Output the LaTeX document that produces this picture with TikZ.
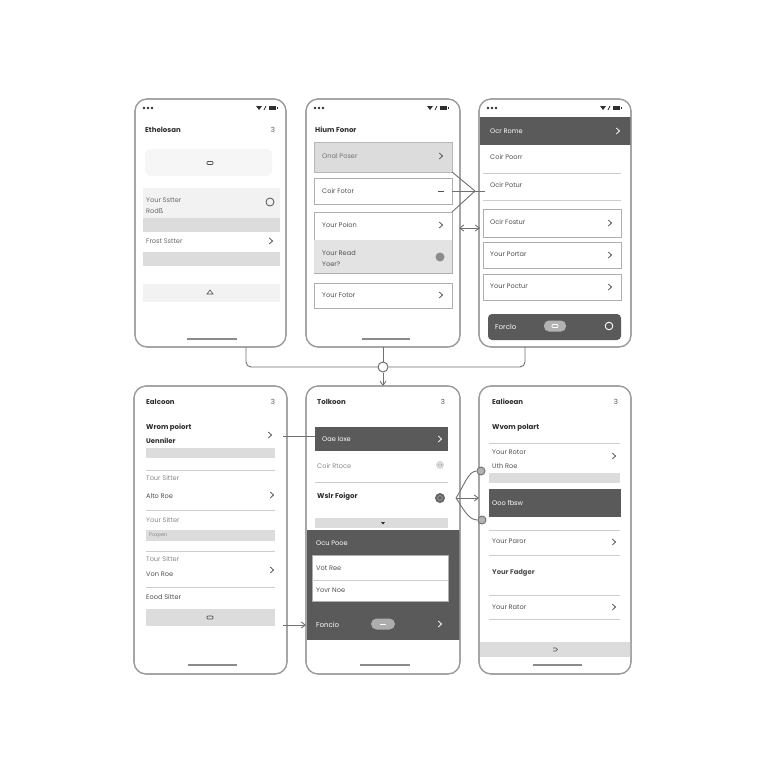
\documentclass[tikz,border=0pt]{standalone}
\usepackage{fontspec}
\setmainfont{Poppins}
\usetikzlibrary{arrows.meta,calc}
\definecolor{frame}{HTML}{9A9A9A}
\definecolor{txt}{HTML}{505050}
\definecolor{ltxt}{HTML}{8A8A8A}
\definecolor{ttl}{HTML}{2E2E2E}
\definecolor{dark}{HTML}{5A5A5A}
\definecolor{gbar}{HTML}{DCDCDC}
\definecolor{lgbar}{HTML}{F2F2F2}
\definecolor{divc}{HTML}{CDCDCD}
\definecolor{conc}{HTML}{707070}
\newcommand\bxy[6]{\node[#1,anchor=north west,minimum width={(#5)-(#3)},minimum height={(#6)-(#4)}] (#2) at (#3,#4) {};}
\newcommand\chv[3][txt]{\draw[chevl,draw=#1] (#2-1.5,#3-2.8) -- (#2+1.5,#3) -- (#2-1.5,#3+2.8);}
\newcommand\stat[2]{%
  \fill[ttl] (#1+9,#2+9) circle (1.4) (#1+13,#2+9) circle (1.4) (#1+17,#2+9) circle (1.4);
  \fill[ttl] (#1+121,#2+7) -- (#1+127,#2+7) -- (#1+124,#2+11) -- cycle;
  \draw[ttl,line width=0.7pt] (#1+129,#2+11) -- (#1+131,#2+7);
  \fill[ttl] (#1+134,#2+7.2) rectangle (#1+141,#2+10.8);
  \fill[ttl] (#1+141.5,#2+8.2) rectangle (#1+142.5,#2+9.8);}
\begin{document}
\begin{tikzpicture}[x=1pt,y=-1pt,
  phone/.style={draw=frame,fill=white,line width=1.1pt,rounded corners=12pt,inner sep=0pt,outer sep=0pt},
  phoneline/.style={draw=frame,line width=1.1pt,rounded corners=12pt},
  lbox/.style={draw=frame!80,fill=white,line width=0.7pt,inner sep=0pt,outer sep=0pt},
  gbox/.style={draw=frame!70,fill=gbar,line width=0.7pt,inner sep=0pt,outer sep=0pt},
  dbar/.style={fill=dark,inner sep=0pt,outer sep=0pt},
  gfill/.style={fill=gbar,inner sep=0pt,outer sep=0pt},
  lfill/.style={fill=lgbar,inner sep=0pt,outer sep=0pt},
  lbl/.style={anchor=west,inner sep=0pt,text=txt,font=\fontsize{6.6}{8}\selectfont},
  llbl/.style={lbl,text=ltxt},
  wlbl/.style={lbl,text=white},
  tlbl/.style={lbl,text=ttl,font=\fontsize{7}{8}\selectfont\bfseries},
  blbl/.style={lbl,text=ttl,font=\fontsize{7}{8}\selectfont\bfseries},
  num/.style={inner sep=0pt,text=txt,font=\fontsize{7}{8}\selectfont},
  chevl/.style={line width=0.8pt,line cap=round,line join=round},
  divl/.style={draw=divc,line width=1pt},
  home/.style={draw=frame!90!black,line width=1.1pt},
  conn/.style={draw=conc,line width=0.9pt},
  jn/.style={circle,draw=conc,fill=white,line width=1pt,minimum size=10pt,inner sep=0pt},
  pin/.style={circle,draw=conc,fill=black!30,line width=0.9pt,minimum size=8pt,inner sep=0pt},
  tip/.style={-{Straight Barb[length=4pt,width=6pt]}}
]
\fill[white] (0,0) rectangle (768,768);
\useasboundingbox (0,0) rectangle (768,768);

% ---------- phones ----------
\bxy{phone}{p1}{135}{99}{286}{347}
\bxy{phone}{p2}{306}{99}{460}{347}
\bxy{phone}{p3}{479}{99}{631}{347}
\bxy{phone}{p4}{134}{386}{287}{674}
\bxy{phone}{p5}{306}{386}{460}{674}
\bxy{phone}{p6}{479}{386}{631}{674}

\stat{135}{99}
\stat{306}{99}
\stat{479}{99}

% ---------- phone 1 ----------
\node[tlbl] (t1) at (145,130) {Ethelosan};
\node[num] (n1) at (273,130) {3};
\fill[lgbar!70,rounded corners=6pt] (145,149) rectangle (272,176);
\draw[txt,line width=0.7pt,rounded corners=0.8pt] (207,161.5) rectangle (213,164.5);
\bxy{lfill}{r11}{143}{188}{280}{218}
\node[lbl,text=txt!85] (t11) at (146,200) {Your Sstter};
\node[lbl,text=txt!85] (t12) at (146,211) {Rodß};
\draw[txt,line width=0.8pt] (270,202) circle (4);
\bxy{gfill}{g11}{143}{218}{280}{232}
\node[lbl,text=txt!85] (t13) at (146,241) {Frost Sstter};
\chv{271}{241}
\bxy{gfill}{g12}{143}{252}{280}{266}
\bxy{lfill}{g13}{143}{284}{280}{302}
\draw[txt,line width=0.6pt] (207,294) -- (210,290) -- (213,294) -- cycle;
\draw[home] (187,339) -- (237,339);

% ---------- phone 2 ----------
\node[tlbl] (t2) at (315,130) {Hium Fonor};
\bxy{gbox}{b21}{314}{142}{452}{172}
\node[lbl,text=txt!80] (t21) at (322,156) {Onal Poser};
\chv{441}{156}
\bxy{lbox}{b22}{314}{178}{452}{204}
\node[lbl] (t22) at (322,191) {Coir Fotor};
\draw[txt,line width=0.9pt] (438,191) -- (444,191);
\bxy{lbox}{b23}{314}{212}{452}{273}
\fill[gbar!80] (314.4,240) rectangle (451.6,272.6);
\node[lbl] (t23) at (322,225) {Your Poion};
\chv{441}{225}
\node[lbl] (t24) at (322,253) {Your Read};
\node[lbl] (t25) at (322,264) {Yoer?};
\fill[black!45] (440,257) circle (4.5);
\bxy{lbox}{b24}{314}{283}{452}{308}
\node[lbl] (t26) at (322,295) {Your Fotor};
\chv{441}{295}
\draw[home] (362,339) -- (410,339);

% ---------- phone 3 ----------
\bxy{dbar}{d31}{479.5}{117}{630.5}{145}
\node[wlbl] (t3) at (490,131) {Ocr Rome};
\chv[white]{618}{131}
\node[lbl] (t31) at (490,157) {Coir Poorr};
\draw[divl] (483,173) -- (621,173);
\node[lbl] (t32) at (490,185) {Ocir Potur};
\draw[divl] (483,200) -- (621,200);
\bxy{lbox}{b31}{483}{209}{621}{237}
\node[lbl] (t33) at (490,222) {Ocir Fostur};
\chv{610}{223}
\bxy{lbox}{b32}{483}{242}{621}{268}
\node[lbl] (t34) at (490,254) {Your Portar};
\chv{610}{255}
\bxy{lbox}{b33}{483}{274}{621}{300}
\node[lbl] (t35) at (490,286) {Your Poctur};
\chv{610}{287}
\fill[dark,rounded corners=4pt] (488,314) rectangle (621,340);
\node[wlbl,font=\fontsize{7}{8}\selectfont] (t36) at (495,327) {Forclo};
\fill[black!30,rounded corners=5pt] (544,320.5) rectangle (566,331.5);
\draw[white,line width=0.7pt,rounded corners=0.8pt] (552,324.5) rectangle (558,327.5);
\draw[white,line width=0.9pt] (609,326) circle (3.8);

% ---------- phone 4 ----------
\node[tlbl] (t4) at (146,402) {Ealcoon};
\node[num] (n4) at (273,402) {3};
\node[blbl] (t41) at (146,428) {Wrom poiort};
\node[blbl,font=\fontsize{6.8}{8}\selectfont\bfseries] (t42) at (146,441) {Uenniler};
\chv{270}{435}
\bxy{gfill}{g41}{146}{448}{275}{458}
\draw[divl] (146,470) -- (275,470);
\node[llbl] (t43) at (146,478) {Tour Sitter};
\node[lbl] (t44) at (146,496) {Alto Roe};
\chv{272}{495}
\draw[divl] (146,510) -- (275,510);
\node[llbl] (t45) at (146,520) {Your Sitter};
\bxy{gfill}{g42}{146}{530}{275}{541}
\node[llbl,font=\fontsize{5}{6}\selectfont] (t46) at (149,535.5) {Poxpen};
\draw[divl] (146,551) -- (275,551);
\node[llbl] (t47) at (146,559) {Tour Sitter};
\node[lbl] (t48) at (146,574) {Von Roe};
\chv{272}{570}
\draw[divl] (146,587) -- (275,587);
\node[lbl] (t49) at (146,597) {Eood Sitter};
\bxy{gfill}{g43}{146}{609}{275}{626}
\draw[txt,line width=0.7pt,rounded corners=0.8pt] (207,616) rectangle (213,619);
\draw[home] (188,665) -- (237,665);

% ---------- phone 5 ----------
\node[tlbl] (t5) at (317,402) {Tolkoon};
\node[num] (n5) at (443,402) {3};
\bxy{dbar}{d51}{315}{427}{448}{451}
\node[wlbl] (t51) at (322,439) {Oae Ioxe};
\chv[white]{440}{439}
\node[llbl] (t52) at (317,466) {Coir Rtoce};
\fill[black!15] (440,465) circle (4);
\fill[black!50] (438.6,465) circle (0.6) (441.4,465) circle (0.6);
\draw[divl] (315,482) -- (448,482);
\node[blbl] (t53) at (317,497) {Wslr Foigor};
\fill[black!60] (440,498) circle (5);
\draw[black!35,line width=0.6pt] (440,498) circle (2.4);
\bxy{gfill}{g51}{315}{518}{448}{528}
\fill[ttl] (381,522) -- (385,522) -- (383,524.5) -- cycle;
\bxy{dbar}{d52}{306.5}{530}{459.5}{640}
\node[wlbl] (t54) at (316,543) {Ocu Pooe};
\bxy{lbox}{b51}{312}{555}{448}{601}
\draw[divl] (312,580) -- (448,580);
\node[lbl] (t55) at (316,568) {Vot Ree};
\node[lbl] (t56) at (316,590) {Yovr Noe};
\node[wlbl,font=\fontsize{7}{8}\selectfont] (t57) at (316,625) {Foncio};
\fill[black!32,rounded corners=5.5pt] (371,618.5) rectangle (395,629.5);
\draw[white,line width=1pt] (380,624) -- (386,624);
\chv[white]{440}{624}
\draw[home] (360,665) -- (410,665);

% ---------- phone 6 ----------
\node[tlbl] (t6) at (492,402) {Ealioean};
\node[num] (n6) at (616,402) {3};
\node[blbl] (t61) at (492,428) {Wvom polart};
\draw[divl] (489,443) -- (620,443);
\node[lbl] (t62) at (492,452) {Your Rotor};
\node[lbl] (t63) at (492,466) {Uth Roe};
\chv{614}{456}
\bxy{gfill}{g61}{489}{473}{620}{483}
\bxy{dbar}{d61}{489}{489}{621}{517}
\node[wlbl] (t64) at (492,503) {Ooo fbsw};
\draw[divl] (489,530) -- (620,530);
\node[lbl] (t65) at (492,541) {Your Paror};
\chv{614}{542}
\draw[divl] (489,555) -- (620,555);
\node[blbl,font=\fontsize{6.8}{8}\selectfont\bfseries,text=txt] (t66) at (492,573) {Your Fadger};
\draw[divl] (489,595) -- (620,595);
\node[lbl] (t67) at (492,607) {Your Rator};
\chv{614}{607}
\draw[divl] (489,619) -- (620,619);
\bxy{gfill}{g62}{479.5}{642}{630.5}{657}
\draw[txt,line width=0.6pt] (553,648) -- (556,648) arc[start angle=90,end angle=-90,radius=1.5pt] -- (553,651);
\draw[home] (533,665) -- (582,665);

% ---------- frames on top ----------
\foreach \p in {p1,p2,p3,p4,p5,p6}
  \draw[phoneline] (\p.north west) rectangle (\p.south east);

% ---------- connectors ----------
\node[jn] (jc) at (383,367) {};
\draw[conn,rounded corners=5pt] ([xshift=35.5pt]p1.south) |- (jc.west);
\draw[conn,rounded corners=5pt] ([xshift=-30pt]p3.south) |- (jc.east);
\draw[conn] (p2.south) -- (jc.north);
\draw[conn,tip] (jc.south) -- (p5.north);

\coordinate (fk1) at (475,191);
\coordinate (fk1e) at (485,191);
\draw[conn] (b21.south east) -- (fk1);
\draw[conn] (b23.north east) -- (fk1);
\draw[conn] (b22.east) -- (fk1e);
\coordinate (da) at (459,228);
\coordinate (db) at (480,228);
\draw[conn,{Straight Barb[length=4pt,width=6pt]}-{Straight Barb[length=4pt,width=6pt]}] (da) -- (db);

\coordinate (l4) at (283,436);
\draw[conn] (l4) -- (l4 -| d51.west);
\coordinate (a4) at (283,625);
\draw[conn,tip] (a4) -- (a4 -| p5.west);

\coordinate (fk2) at (456,498);
\coordinate (fk2e) at (479,498);
\node[pin] (c61) at (481,471) {};
\node[pin] (c62) at (482,520) {};
\draw[conn] (fk2) .. controls (463,488) and (468,471) .. (c61.west);
\draw[conn] (fk2) .. controls (463,508) and (468,520) .. (c62.west);
\draw[conn,tip] (fk2) -- (fk2e);
\end{tikzpicture}
\end{document}
